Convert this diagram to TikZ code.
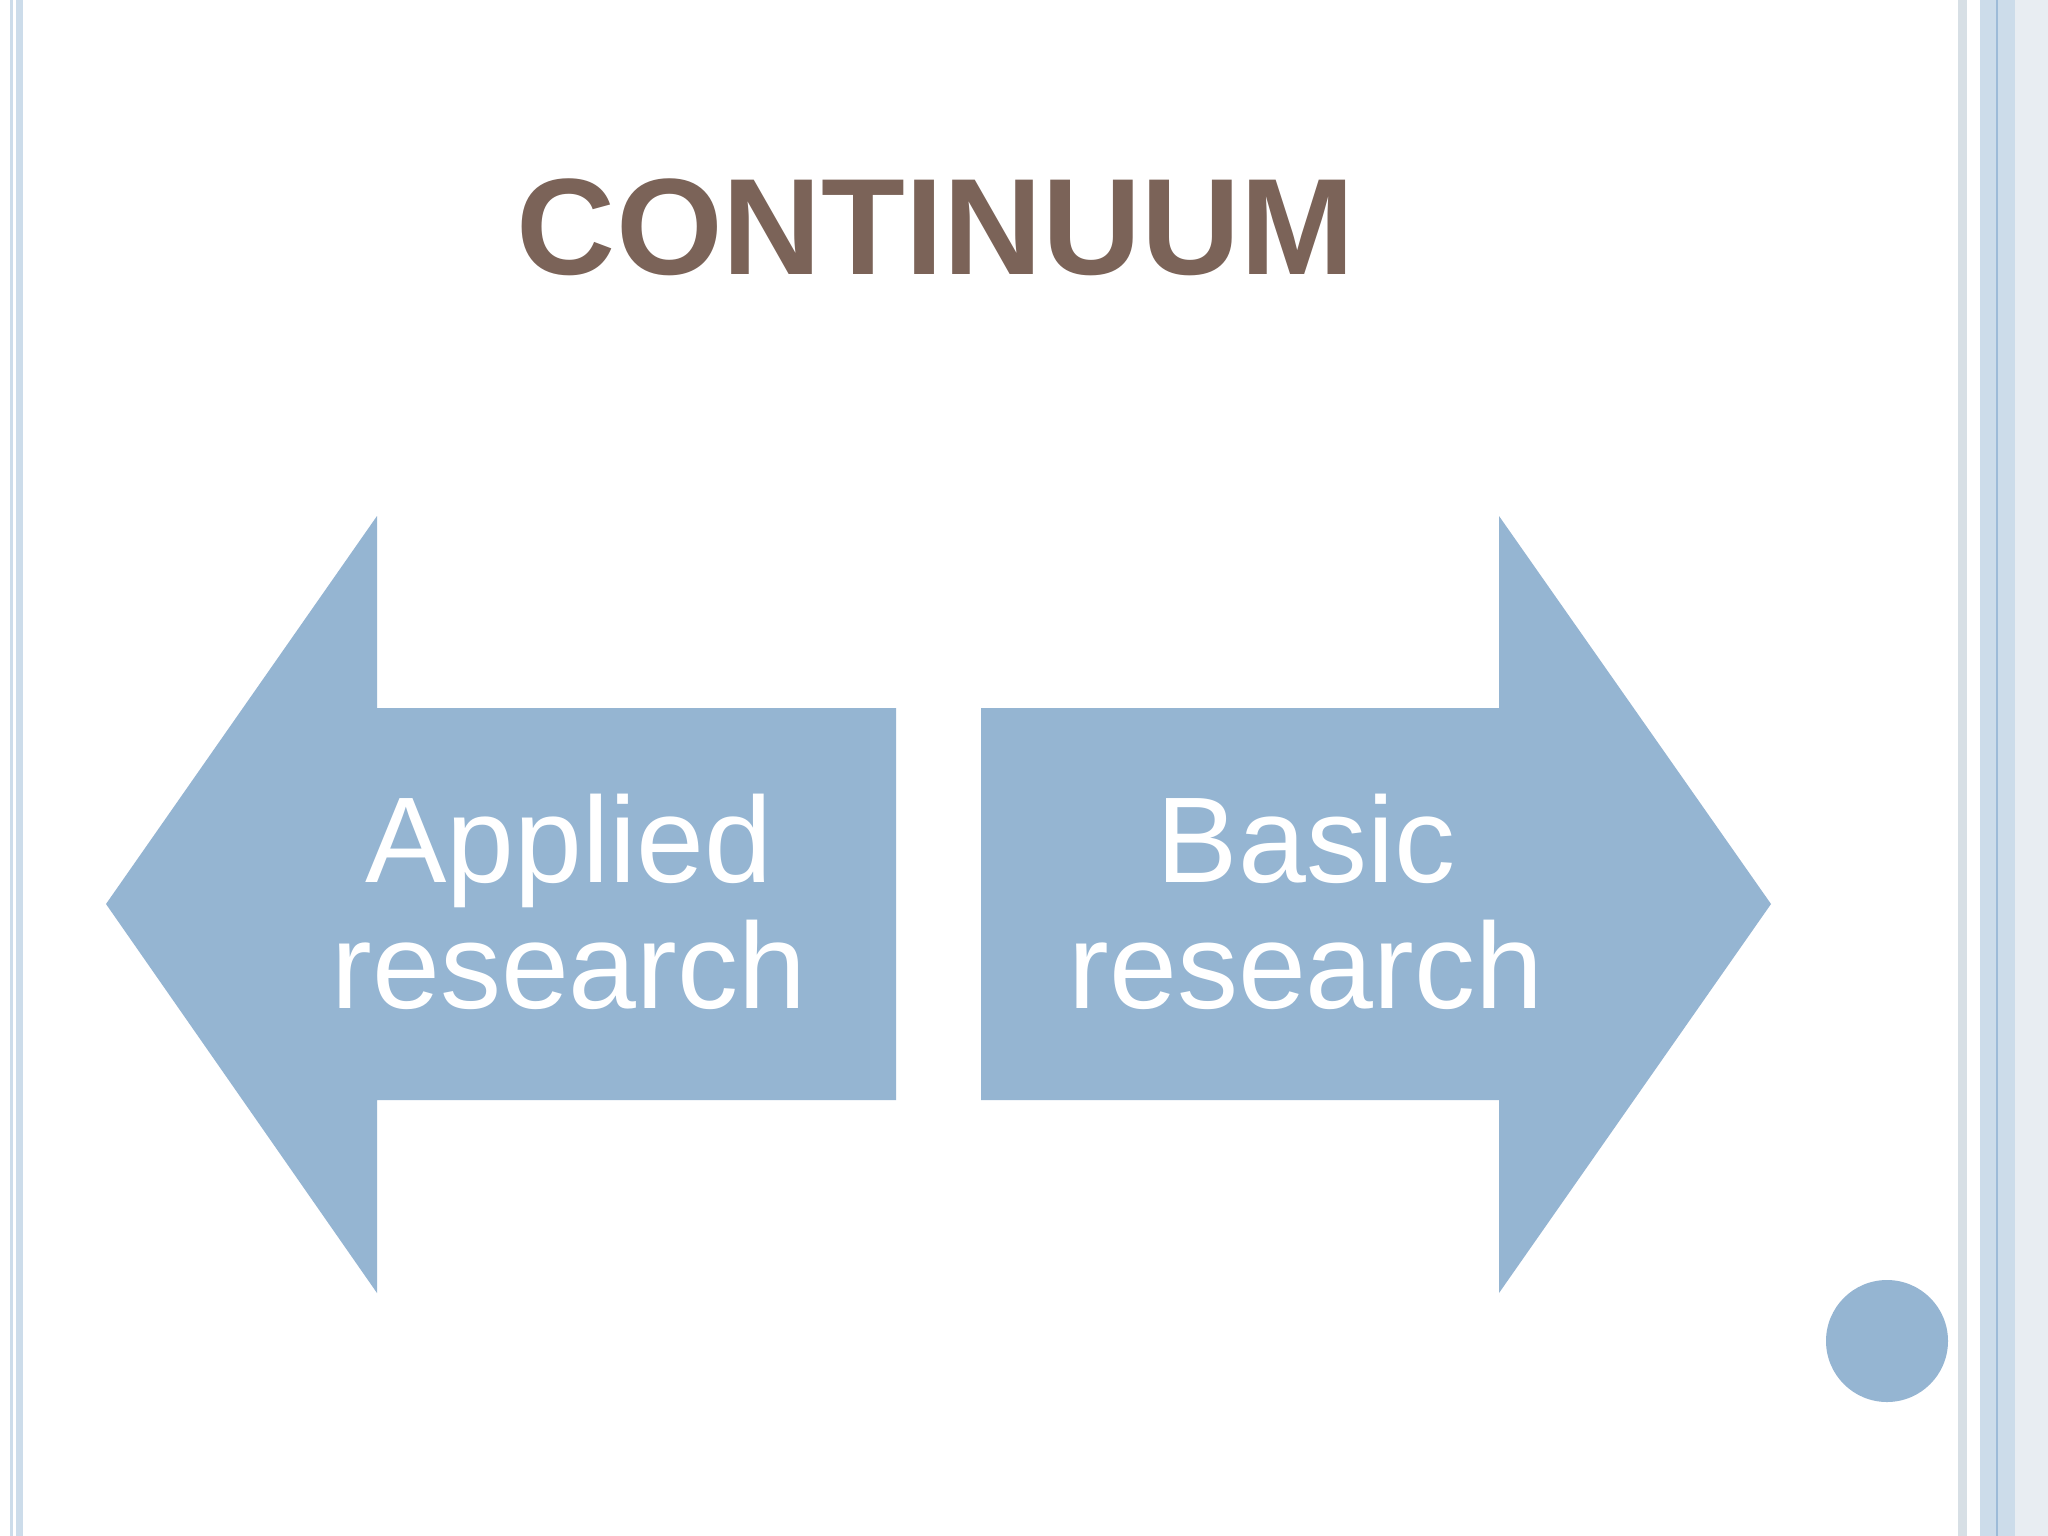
\documentclass[tikz,border=0pt]{standalone}
\usepackage{fontspec}
\setmainfont{Liberation Sans}
\definecolor{arr}{HTML}{95B5D2}
\definecolor{ttl}{HTML}{7B6358}
\definecolor{strp}{HTML}{CCDCEA}
\definecolor{strd}{HTML}{9DBBD8}
\begin{document}
\begin{tikzpicture}[x=0.01cm,y=-0.01cm,
  lbl/.style={text=white,align=center,font=\fontsize{34.7pt}{36pt}\selectfont}]
\useasboundingbox (0,0) rectangle (2048,1536);
\fill[white] (0,0) rectangle (2048,1536);
% stripes
\fill[strp] (10,0) rectangle (13,1536);
\fill[strp] (16,0) rectangle (23,1536);
\fill[strp!80!gray!60] (1958,0) rectangle (1967,1536);
\fill[strp] (1980,0) rectangle (2048,1536);
\fill[strd] (1996,0) rectangle (1998,1536);
\fill[strp!90!gray!40] (2015,0) rectangle (2048,1536);
% title
\node[text=ttl,font=\fontsize{39pt}{40pt}\selectfont\bfseries] (title) at (936,227) {CONTINUUM};
% arrows
\fill[arr] (106,904) -- (377,516) -- (377,708) -- (896,708) -- (896,1100) -- (377,1100) -- (377,1293) -- cycle;
\fill[arr] (1771,904) -- (1499,516) -- (1499,708) -- (981,708) -- (981,1100) -- (1499,1100) -- (1499,1293) -- cycle;
\node[lbl] (applied) at (569,902) {Applied\\research};
\node[lbl] (basic) at (1306,902) {Basic\\research};
% circle
\fill[arr] (1887,1341) circle (61);
\end{tikzpicture}
\end{document}
